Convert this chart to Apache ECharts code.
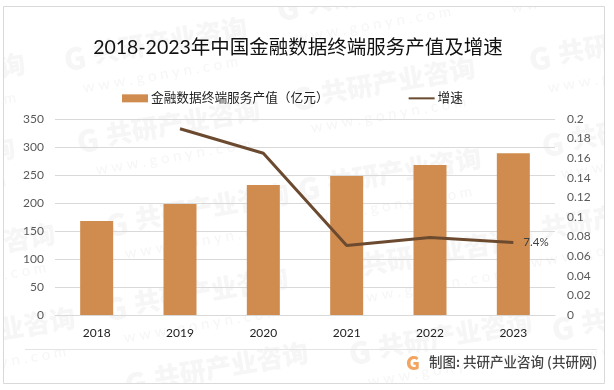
<!DOCTYPE html>
<html>
<head>
<meta charset="utf-8">
<style>
html, body { margin: 0; padding: 0; background: #fff; }
#main { width: 614px; height: 390px; }
</style>
<script src="https://cdn.jsdelivr.net/npm/echarts@6/dist/echarts.min.js"></script>
</head>
<body>
<div id="main"></div>
<script>
var years = ['2018', '2019', '2020', '2021', '2022', '2023'];
var outputValue = [168, 198, 232, 248, 268, 289];
var growthRate = [null, 0.19, 0.165, 0.071, 0.079, 0.074];
var lastLabel = '7.4%';
var barName = '金融数据终端服务产值（亿元）';
var lineName = '增速';
var fontFamily = 'Lato, "Noto Sans CJK SC", sans-serif';

// watermark anchors (left end of each stamp)
var stamps = [[72, 60], [85, 142], [114, 226], [113, 310], [133, 385], [357, 354],
  [537, 60], [550, 146], [300, 100], [306, 190], [340, 272], [-150, 96], [-160, 180],
  [-120, 266], [-100, 350], [520, 235], [560, 330], [285, 10], [500, -20]];

var graphics = [];
stamps.forEach(function(p) {
  graphics.push({
    type: 'group', x: p[0], y: p[1], rotation: 0.17, silent: true,
    children: [
      { type: 'text', z: -10, x: -8, y: -16, style: { text: 'G', fill: '#f6f6f6', font: '900 30px "Noto Sans CJK SC"' } },
      { type: 'text', z: -10, x: 22, y: -16, style: { text: '共研产业咨询', fill: '#f6f6f6', font: '900 26px "Noto Sans CJK SC"' } },
      { type: 'text', z: -10, x: 6, y: 22, style: { text: 'w w w . g o n y n . c o m', fill: '#f6f6f6', font: '15px Lato' } }
    ]
  });
});
graphics.push(
  // white margin outside the frame hides stamps running off the card
  { type: 'rect', z: -5, silent: true, shape: { x: -2.5, y: 0.5, width: 613, height: 389 }, style: { fill: 'none', stroke: '#fff', lineWidth: 12 } },
  { type: 'rect', shape: { x: 3.5, y: 6.5, width: 601, height: 377 }, style: { fill: 'none', stroke: '#d9d9d9', lineWidth: 1 }, z: 1, silent: true },
  { type: 'line', shape: { x1: 25, y1: 349.5, x2: 597, y2: 349.5 }, style: { stroke: '#e4e4e4', lineWidth: 1 }, z: 1, silent: true },
  { type: 'text', x: 406, y: 353, style: { text: 'G', font: '900 19px "Noto Sans CJK SC"', fill: '#f2a561' }, z: 2, silent: true },
  { type: 'text', x: 429, y: 355, style: { text: '制图: 共研产业咨询 (共研网)', fill: '#444', font: '500 13.5px "Noto Sans CJK SC"' }, z: 2, silent: true }
);

var chart = echarts.init(document.getElementById('main'), null, { renderer: 'canvas' });
chart.setOption({
  animation: false,
  backgroundColor: '#fff',
  textStyle: { fontFamily: fontFamily },
  title: {
    text: '2018-2023年中国金融数据终端服务产值及增速',
    left: 293, top: 33, textAlign: 'center',
    textStyle: { fontFamily: fontFamily, fontSize: 19.5, fontWeight: 'normal', color: '#111' }
  },
  legend: {
    left: 117, top: 87, itemGap: 79, itemWidth: 26, itemHeight: 8,
    textStyle: { fontFamily: fontFamily, fontSize: 12.7, color: '#222', padding: [0, 0, 0, -2] },
    data: [{ name: barName, icon: 'rect' }, { name: lineName, itemStyle: { opacity: 0 } }]
  },
  graphic: graphics,
  grid: { left: 55, right: 59, top: 119, height: 196 },
  xAxis: {
    type: 'category', data: years,
    axisLine: { lineStyle: { color: '#d9d9d9' } },
    axisTick: { show: false },
    axisLabel: { color: '#222', fontSize: 12, margin: 12 }
  },
  yAxis: [{
    type: 'value', min: 0, max: 350, interval: 50,
    axisLine: { show: false }, axisTick: { show: false },
    axisLabel: { color: '#595959', fontSize: 12, margin: 11 },
    splitLine: { lineStyle: { color: '#d9d9d9' } }
  }, {
    type: 'value', min: 0, max: 0.2, interval: 0.02,
    axisLine: { show: false }, axisTick: { show: false },
    axisLabel: { color: '#595959', fontSize: 12, margin: 12 },
    splitLine: { show: false }
  }],
  series: [{
    name: barName, type: 'bar', data: outputValue, barWidth: 33,
    itemStyle: { color: '#d08c4f' }
  }, {
    name: lineName, type: 'line', yAxisIndex: 1, showSymbol: false, symbol: 'none',
    connectNulls: false, data: growthRate,
    lineStyle: { color: '#6b4a2f', width: 3 }, itemStyle: { color: '#6b4a2f' },
    endLabel: { show: true, formatter: lastLabel, color: '#404040', fontSize: 11.5, distance: 10 }
  }]
});
</script>
</body>
</html>
